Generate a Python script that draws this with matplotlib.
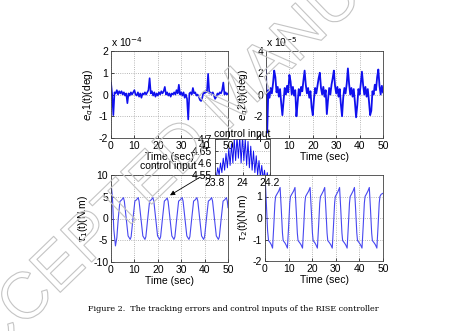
import numpy as np
import matplotlib
matplotlib.use("Agg")
import matplotlib.pyplot as plt
import matplotlib.patheffects as pe

# tracking error e_q1 (x 1e-4 deg), sampled every 0.5 s
e1_vals = [0.55, 0.0, -0.95, 0.1, 0.05, 0.2, 0.0, 0.15, 0.05, 0.15,
           0.0, 0.1, -0.05, 0.05, -0.4, 0.05, -0.05, 0.1, 0.0, 0.1,
           0.2, 0.0, -0.05, 0.1, -0.1, 0.05, -0.15, 0.05, 0.0, 0.1,
           0.0, 0.1, 0.2, 0.75, 0.05, 0.15, -0.05, 0.1, -0.1, 0.05,
           -0.05, 0.1, 0.0, 0.15, 0.05, 0.15, 0.35, 0.0, 0.1, -0.05,
           0.05, -0.1, 0.05, 0.0, 0.1, 0.0, 0.2, 0.05, 0.45, 0.0,
           0.1, -0.05, 0.1, -0.15, 0.0, -0.2, -1.15, 0.05, 0.1, 0.0,
           0.3, 0.05, 0.1, -0.05, 0.0, -0.1, -0.25, -0.3, -0.15, 0.1,
           0.05, 0.15, 0.1, 0.95, 0.05, 0.1, 0.0, 0.1, -0.05, -0.2,
           -0.1, 0.05, 0.0, 0.1, 0.05, 0.2, 0.55, 0.0, 0.1, 0.0,
           0.05]

# tracking error e_q2 (x 1e-5 deg), sampled every 0.5 s
e2_vals = [2.4, -3.5, 0.4, -0.3, 0.6, 0.1, 1.0, 2.2, 1.6, 0.2,
           0.7, -0.2, 0.5, -0.8, -1.9, -0.6, 0.6, 0.0, 0.8, 0.2,
           1.8, 1.2, 0.0, 0.7, -0.1, 0.4, -2.0, -0.8, 0.5, -0.1,
           0.7, 0.3, 1.3, 2.2, 0.9, 0.1, 0.6, -0.3, 0.3, -1.2,
           -1.9, -0.4, 0.6, 0.1, 0.8, 1.5, 2.0, 0.6, 0.0, 0.7,
           -0.2, 0.4, -1.8, -0.5, 0.6, 0.0, 0.9, 1.5, 2.2, 0.8,
           0.1, 0.7, -0.2, 0.5, -0.9, -2.0, -0.3, 0.6, 0.1, 1.0,
           2.4, 1.0, 0.0, 0.6, -0.2, 0.5, -0.7, -2.1, -1.0, 0.5,
           0.0, 1.0, 2.1, 0.9, 0.0, 0.7, -0.2, 0.5, -0.6, -1.9,
           -1.5, 0.3, 0.0, 0.9, 0.4, 1.6, 2.3, 0.8, 0.0, 0.8,
           0.2]

# control input tau_1 (N.m), breakpoints
tau1_t = [0.0, 0.2, 0.6, 1.2, 1.9, 2.5, 3.1, 3.8, 4.6, 5.3,
          5.7, 6.5, 7.3, 8.2, 8.6, 9.4, 10.2, 10.9, 11.6,
          12.0, 12.8, 13.6, 14.5, 14.9, 15.7, 16.5, 17.2, 17.9,
          18.3, 19.1, 19.9, 20.8, 21.2, 22.0, 22.8, 23.4, 24.0,
          24.4, 25.2, 26.0, 26.9, 27.3, 28.1, 28.9, 29.6, 30.4,
          30.8, 31.6, 32.4, 33.3, 33.7, 34.5, 35.3, 36.0, 36.7,
          37.1, 37.9, 38.7, 39.6, 40.0, 40.8, 41.6, 42.3, 43.0,
          43.4, 44.2, 45.0, 45.9, 46.3, 47.1, 47.9, 48.6, 49.3,
          49.7, 50.0]
tau1_v = [0.0, 7.0, 5.0, -2.5, -6.3, -4.4, 0.0, 3.9, 4.3, 4.8,
          4.0, 0.0, -4.0, -4.8, -4.2, 0.0, 4.0, 4.3, 4.8,
          4.0, 0.0, -4.0, -4.8, -4.2, 0.0, 4.0, 4.3, 4.8,
          4.0, 0.0, -4.0, -4.8, -4.2, 0.0, 4.0, 4.3, 4.7,
          4.0, 0.0, -4.0, -4.8, -4.2, 0.0, 4.0, 4.3, 4.8,
          4.0, 0.0, -4.0, -4.8, -4.2, 0.0, 4.0, 4.3, 4.8,
          4.0, 0.0, -4.0, -4.8, -4.2, 0.0, 4.0, 4.3, 4.8,
          4.0, 0.0, -4.0, -4.8, -4.2, 0.0, 4.0, 4.3, 4.8,
          4.0, 2.5]

# control input tau_2 (N.m), breakpoints
tau2_t = [0.0, 0.2, 0.6, 1.1, 1.5, 2.2, 2.7, 3.2,
          3.7, 4.2, 4.5, 5.0, 5.8, 6.4, 6.9, 7.4, 7.7, 8.4, 8.9, 9.5,
          10.0, 10.5, 10.8, 11.3, 12.1, 12.7, 13.2, 13.7, 14.0, 14.7, 15.3, 15.9,
          16.4, 16.9, 17.2, 17.7, 18.5, 19.1, 19.6, 20.1, 20.4, 21.1, 21.6, 22.2,
          22.7, 23.2, 23.5, 24.0, 24.7, 25.3, 25.8, 26.3, 26.6, 27.3, 27.9, 28.5,
          29.0, 29.5, 29.8, 30.3, 31.0, 31.6, 32.1, 32.6, 32.9, 33.6, 34.2, 34.8,
          35.3, 35.8, 36.1, 36.6, 37.3, 37.9, 38.4, 38.9, 39.2, 39.9, 40.5, 41.1,
          41.6, 42.1, 42.4, 42.9, 43.6, 44.2, 44.7, 45.2, 45.5, 46.2, 46.8, 47.4,
          47.9, 48.4, 48.7, 49.2, 50.0]
tau2_v = [0.0, 1.55, 0.6, -0.6, -1.05, -1.15, -1.25, -1.4,
          -0.4, 0.7, 1.0, 1.1, 1.25, 1.42, 0.4, -0.7, -1.05, -1.15, -1.25, -1.4,
          -0.4, 0.7, 1.0, 1.1, 1.25, 1.42, 0.4, -0.7, -1.05, -1.15, -1.25, -1.4,
          -0.4, 0.7, 1.0, 1.1, 1.25, 1.42, 0.4, -0.7, -1.05, -1.15, -1.25, -1.4,
          -0.4, 0.7, 1.0, 1.1, 1.25, 1.42, 0.4, -0.7, -1.05, -1.15, -1.25, -1.4,
          -0.4, 0.7, 1.0, 1.1, 1.25, 1.42, 0.4, -0.7, -1.05, -1.15, -1.25, -1.4,
          -0.4, 0.7, 1.0, 1.1, 1.25, 1.42, 0.4, -0.7, -1.05, -1.15, -1.25, -1.4,
          -0.4, 0.7, 1.0, 1.1, 1.25, 1.42, 0.4, -0.7, -1.05, -1.15, -1.25, -1.4,
          -0.4, 0.7, 1.0, 1.1, 1.15]

# zoomed control input around t = 24 s
zoom_t = np.round(np.arange(23.80, 24.2001, 0.01), 2)
zoom_v = [4.56, 4.54, 4.58, 4.55, 4.60, 4.56, 4.62, 4.57, 4.64, 4.58,
          4.66, 4.59, 4.68, 4.60, 4.70, 4.61, 4.71, 4.62, 4.71, 4.60,
          4.71, 4.61, 4.70, 4.59, 4.69, 4.58, 4.67, 4.57, 4.65, 4.56,
          4.63, 4.55, 4.61, 4.54, 4.59, 4.53, 4.57, 4.52, 4.56, 4.52,
          4.55]

t_err = np.linspace(0, 50, len(e1_vals))
time_ticks = [0, 10, 20, 30, 40, 50]

plt.rcParams['font.size'] = 7.5
plt.rcParams['font.family'] = ['Liberation Sans', 'DejaVu Sans']
plt.rcParams['axes.unicode_minus'] = False

fig = plt.figure(figsize=(4.74, 3.31), dpi=100)
W, H = 474.0, 331.0

def box(l, r, t, b):
    return [l / W, 1 - b / H, (r - l) / W, (b - t) / H]

def style(ax):
    ax.grid(True, linestyle=':', color='#a0a0a0', linewidth=0.6)
    ax.tick_params(direction='in', length=2, width=0.5, pad=2)
    for s in ax.spines.values():
        s.set_linewidth(0.6)
        s.set_color('#404040')

dark = '#1010ee'
light = '#4848f0'

# watermark first so the plots sit over it
fig.text(235 / W, 1 - 100 / H, 'ACCEPTED MANUSCRIPT', rotation=44,
         ha='center', va='center', fontsize=47, color='none',
         path_effects=[pe.Stroke(linewidth=0.8, foreground='#c4c4c4')])

ax1 = fig.add_axes(box(111, 228, 51, 138))
ax1.patch.set_alpha(0)
ax1.plot(t_err, e1_vals, color=dark, lw=1.2)
ax1.set_xlim(0, 50)
ax1.set_xticks(time_ticks)
ax1.set_ylim(-2, 2)
ax1.set_yticks([-2, -1, 0, 1, 2])
ax1.set_xlabel('Time (sec)', labelpad=1)
ax1.set_ylabel(r'$e_q$1(t)(deg)', labelpad=2)
ax1.text(0, 1.02, r'x 10$^{-4}$', transform=ax1.transAxes, ha='left', va='bottom')
style(ax1)

ax2 = fig.add_axes(box(266, 383, 51, 138))
ax2.patch.set_alpha(0)
ax2.plot(t_err, e2_vals, color=dark, lw=1.3)
ax2.set_xlim(0, 50)
ax2.set_xticks(time_ticks)
ax2.set_ylim(-4, 4)
ax2.set_yticks([-4, -2, 0, 2, 4])
ax2.set_xlabel('Time (sec)', labelpad=1)
ax2.set_ylabel(r'$e_q$2(t)(deg)', labelpad=2)
ax2.text(0, 1.02, r'x 10$^{-5}$', transform=ax2.transAxes, ha='left', va='bottom')
style(ax2)

ax3 = fig.add_axes(box(111, 228, 175, 262))
ax3.patch.set_alpha(0)
ax3.plot(tau1_t, tau1_v, color=light, lw=0.8)
ax3.set_xlim(0, 50)
ax3.set_xticks(time_ticks)
ax3.set_ylim(-10, 10)
ax3.set_yticks([-10, -5, 0, 5, 10])
ax3.set_xlabel('Time (sec)', labelpad=1)
ax3.set_ylabel(r'$\tau_1$(t)(N.m)', labelpad=2)
style(ax3)

ax4 = fig.add_axes(box(265, 383, 175, 261))
ax4.patch.set_alpha(0)
ax4.plot(tau2_t, tau2_v, color=light, lw=0.8)
ax4.set_xlim(0, 50)
ax4.set_xticks(time_ticks)
ax4.set_ylim(-2, 2)
ax4.set_yticks([-2, -1, 0, 1])
ax4.set_xlabel('Time (sec)', labelpad=1)
ax4.set_ylabel(r'$\tau_2$(t)(N.m)', labelpad=2)
style(ax4)

# zoomed inset
axi = fig.add_axes(box(215, 270, 139, 175))
axi.set_facecolor('none')
axi.plot(zoom_t, zoom_v, color=dark, lw=0.7)
axi.set_xlim(23.8, 24.2)
axi.set_ylim(4.55, 4.7)
axi.set_xticks([23.8, 24, 24.2])
axi.set_xticklabels(['23.8', '24', '24.2'])
axi.set_yticks([4.55, 4.6, 4.65, 4.7])
axi.set_yticklabels(['4.55', '4.6', '4.65', '4.7'])
axi.set_title('control input', pad=1.5, fontsize=7.5)
style(axi)

fig.text(168 / W, 1 - 166 / H, 'control input', ha='center', va='center')
ax3.annotate('', xy=(24.2, 5.0), xycoords='data',
             xytext=(202 / W, 1 - 176 / H), textcoords='figure fraction',
             arrowprops=dict(arrowstyle='-|>', color='k', lw=0.6,
                             mutation_scale=7))

fig.text(233 / W, 1 - 309 / H,
         'Figure 2.  The tracking errors and control inputs of the RISE controller',
         ha='center', va='center', family='DejaVu Serif', fontsize=5.8)

fig.savefig('out.png', dpi=100)
